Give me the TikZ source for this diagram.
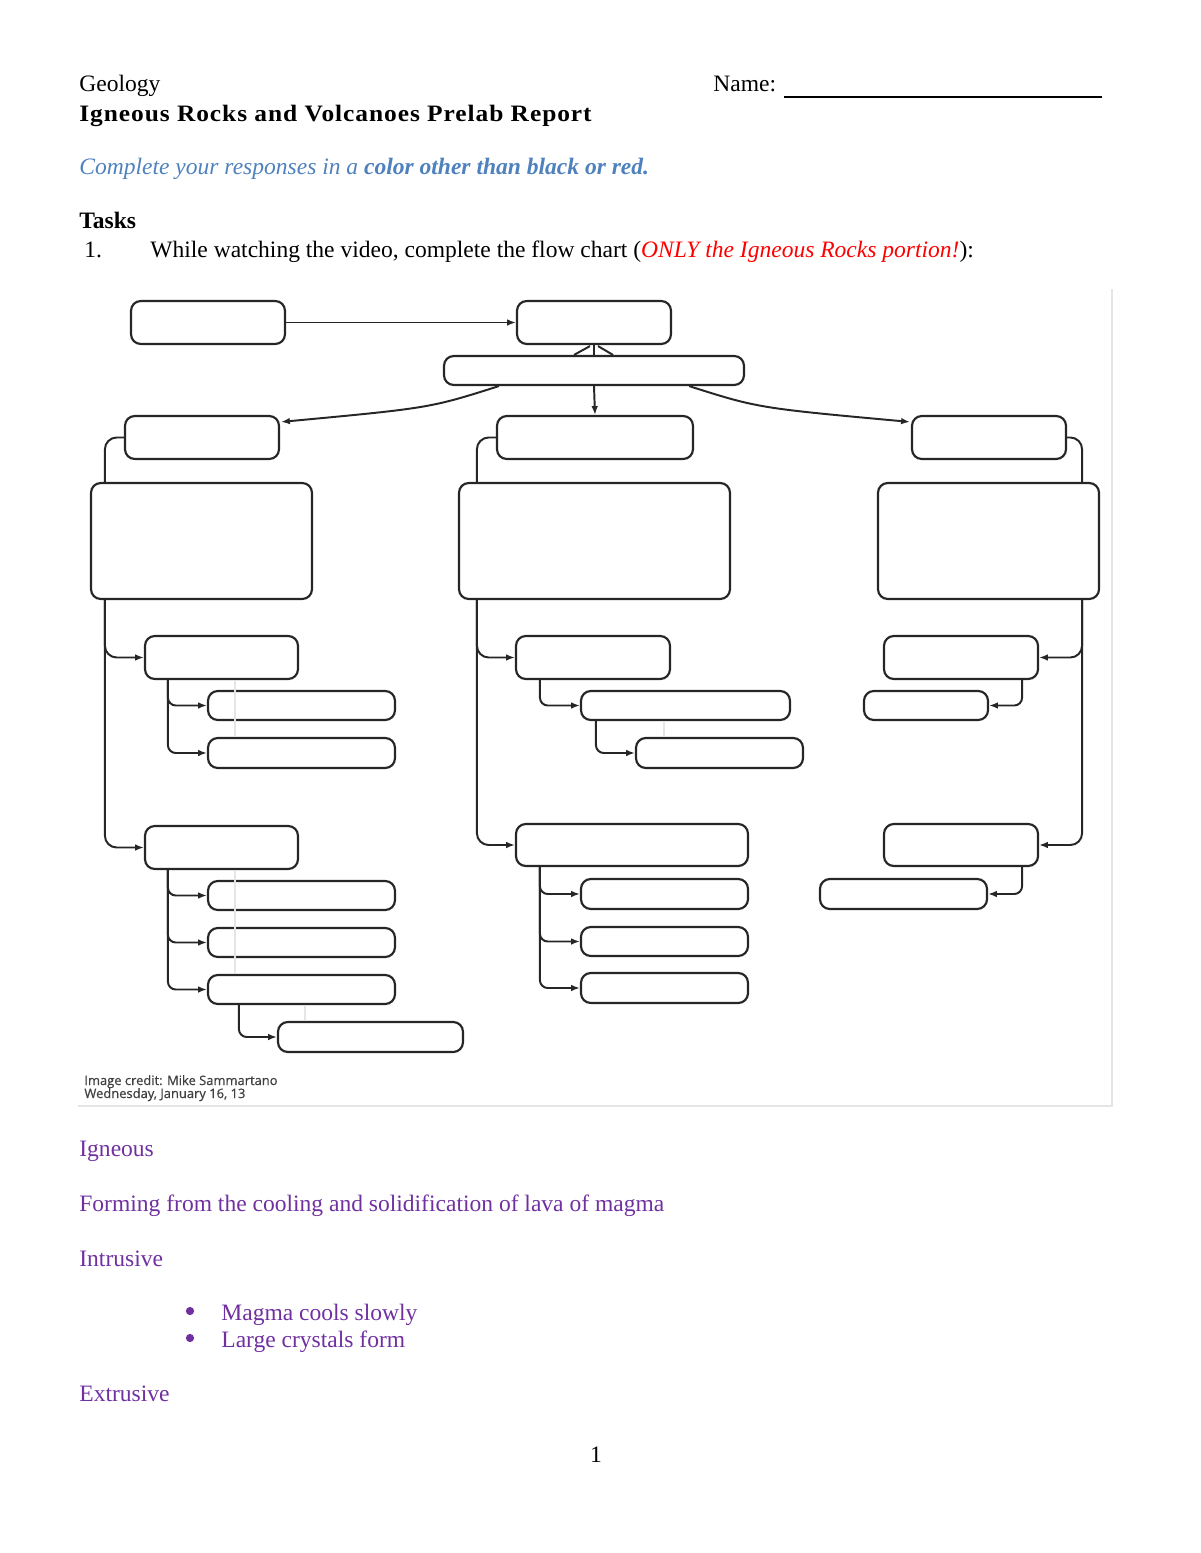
\documentclass[tikz,border=0pt]{standalone}
\usepackage{fontspec}
\setmainfont{Liberation Serif}
\newfontfamily\credfont{Open Sans}[FakeBold=0.6]
\newfontfamily\titlefont{Liberation Serif}[FakeStretch=1.08,LetterSpace=4]
\usetikzlibrary{arrows.meta,calc}
\definecolor{ublue}{RGB}{79,129,189}
\definecolor{upurple}{RGB}{112,48,160}
\definecolor{ured}{RGB}{255,0,0}
\newcommand\mybox[5]{%
  \pgfmathsetmacro\myBW{(#4-#2)*0.51}%
  \pgfmathsetmacro\myBH{(#5-#3)*0.51}%
  \node[box,minimum width=\myBW pt,minimum height=\myBH pt] (#1) at ({(#2+#4)/2},{(#3+#5)/2}) {};}
\begin{document}
\begin{tikzpicture}[x=0.51pt,y=-0.51pt,
  box/.style={draw=black!85,line width=1.1pt,rounded corners=5pt,inner sep=0pt,fill=white},
  conn/.style={draw=black!85,line width=1pt,rounded corners=4pt},
  arr/.style={conn,-{Latex[length=4.5pt,width=3.4pt]}},
  faint/.style={draw=black!10,line width=0.6pt},
  txt/.style={anchor=base west,inner sep=0pt,font=\fontsize{12}{14}\selectfont},
  ptxt/.style={txt,text=upurple},
  cred/.style={anchor=base west,inner sep=0pt,font=\credfont\fontsize{6.6}{7}\selectfont,text=black!75}]
\useasboundingbox (0,0) rectangle (1200,1553);

% ---------- header ----------
\node[txt] (geo) at (79,92) {Geology};
\node[txt] (name) at (713,92) {Name:};
\coordinate (nl1) at (784,97);
\coordinate (nl2) at (1102,97);
\draw[line width=0.6pt] (nl1) -- (nl2);
\node[txt,font=\titlefont\fontsize{12}{14}\selectfont\bfseries] (title) at (79,122) {Igneous Rocks and Volcanoes Prelab Report};
\node[txt,text=ublue] (instr) at (79,175) {\itshape Complete your responses in a \textbf{color other than black or red.}};
\node[txt,font=\fontsize{12}{14}\selectfont\bfseries] (tasks) at (79,229) {Tasks};
\node[txt] (num) at (84,257) {1.};
\node[txt] (task1) at (150,257) {While watching the video, complete the flow chart (\textcolor{ured}{\itshape ONLY the Igneous Rocks portion!}):};

% ---------- frame ----------
\coordinate (f1) at (1112,289);
\coordinate (f2) at (1112,1106);
\coordinate (f3) at (78,1106);
\draw[faint] (f1) -- (f2) -- (f3);

% ---------- boxes ----------
\mybox{A}{131}{301}{285}{344}
\mybox{B}{517}{301}{671}{344}
\mybox{C}{444}{356}{744}{385}
\mybox{L1}{125}{416}{279}{459}
\mybox{M1}{497}{416}{693}{459}
\mybox{R1}{912}{416}{1066}{459}
\mybox{L2}{91}{483}{312}{599}
\mybox{M2}{459}{483}{730}{599}
\mybox{R2}{878}{483}{1099}{599}
\mybox{L3}{145}{636}{298}{679}
\mybox{L3a}{208}{691}{395}{720}
\mybox{L3b}{208}{738}{395}{768}
\mybox{M3}{516}{636}{670}{679}
\mybox{M3a}{581}{691}{790}{720}
\mybox{M3b}{636}{738}{803}{768}
\mybox{R3}{884}{636}{1038}{679}
\mybox{R3a}{864}{691}{988}{720}
\mybox{L4}{145}{826}{298}{869}
\mybox{L4a}{208}{881}{395}{910}
\mybox{L4b}{208}{928}{395}{957}
\mybox{L4c}{208}{975}{395}{1004}
\mybox{L4d}{278}{1022}{463}{1052}
\mybox{M4}{516}{824}{748}{866}
\mybox{M4a}{581}{879}{748}{909}
\mybox{M4b}{581}{927}{748}{956}
\mybox{M4c}{581}{973}{748}{1003}
\mybox{R4}{884}{824}{1038}{866}
\mybox{R4a}{820}{879}{987}{909}

% faint guide lines
\draw[faint] ($(L3.south west)+(91,0)$) -- ($(L3b.north west)+(28,0)$);
\draw[faint] ($(L4.south west)+(91,0)$) -- ($(L4c.north west)+(28,0)$);
\draw[faint] ($(L4c.south west)+(98,0)$) -- ($(L4d.north west)+(28,0)$);
\draw[faint] ($(M3a.south west)+(84,0)$) -- ($(M3b.north west)+(29,0)$);

% ---------- connectors ----------
\draw[arr] (A.east) -- (B.west);
\draw[conn] (C.north) -- (B.south);
\draw[conn] ($(C.north)+(-20,0)$) -- ($(B.south)+(-4,1)$);
\draw[conn] ($(C.north)+(19,0)$) -- ($(B.south)+(4,1)$);
\draw[arr] (C.south) -- (M1.north);
\draw[arr,rounded corners=0pt] ($(C.south west)+(56,0)$) .. controls (430,408) .. ($(L1.north east)+(1,7)$);
\draw[arr,rounded corners=0pt] ($(C.south east)+(-56,0)$) .. controls (758,408) .. ($(R1.north west)+(-1,7)$);

% left column
\draw[conn,rounded corners=6pt] (L1.west) -| ($(L2.north west)+(15,0)$);
\draw[arr,rounded corners=6pt] ($(L2.south west)+(15,0)$) |- (L3.west);
\draw[arr,rounded corners=6pt] ($(L2.south west)+(15,0)$) |- (L4.west);
\draw[arr] ($(L3.south west)+(24,0)$) |- (L3a.west);
\draw[arr] ($(L3.south west)+(24,0)$) |- (L3b.west);
\draw[arr] ($(L4.south west)+(24,0)$) |- (L4a.west);
\draw[arr] ($(L4.south west)+(24,0)$) |- (L4b.west);
\draw[arr] ($(L4.south west)+(24,0)$) |- (L4c.west);
\draw[arr] ($(L4c.south west)+(32,0)$) |- (L4d.west);

% middle column
\draw[conn,rounded corners=6pt] (M1.west) -| ($(M2.north west)+(19,0)$);
\draw[arr,rounded corners=6pt] ($(M2.south west)+(19,0)$) |- (M3.west);
\draw[arr,rounded corners=6pt] ($(M2.south west)+(19,0)$) |- (M4.west);
\draw[arr] ($(M3.south west)+(25,0)$) |- (M3a.west);
\draw[arr] ($(M3a.south west)+(16,0)$) |- (M3b.west);
\draw[arr] ($(M4.south west)+(25,0)$) |- (M4a.west);
\draw[arr] ($(M4.south west)+(25,0)$) |- (M4b.west);
\draw[arr] ($(M4.south west)+(25,0)$) |- (M4c.west);

% right column
\draw[conn,rounded corners=6pt] (R1.east) -| ($(R2.north east)+(-18,0)$);
\draw[arr,rounded corners=6pt] ($(R2.south east)+(-18,0)$) |- (R3.east);
\draw[arr,rounded corners=6pt] ($(R2.south east)+(-18,0)$) |- (R4.east);
\draw[arr] ($(R3.south east)+(-17,0)$) |- (R3a.east);
\draw[arr] ($(R4.south east)+(-17,0)$) |- (R4a.east);

% credit
\node[cred] (cr1) at (84,1085) {Image credit: Mike Sammartano};
\node[cred] (cr2) at (84,1098) {Wednesday, January 16, 13};

% ---------- answers ----------
\node[ptxt] (p1) at (79,1156) {Igneous};
\node[ptxt] (p2) at (79,1211) {Forming from the cooling and solidification of lava of magma};
\node[ptxt] (p3) at (79,1266) {Intrusive};
\node[circle,fill=upurple,inner sep=0pt,minimum size=4.2pt] (b1) at (190,1311) {};
\node[ptxt] (p4) at (221,1320) {Magma cools slowly};
\node[circle,fill=upurple,inner sep=0pt,minimum size=4.2pt] (b2) at (190,1338) {};
\node[ptxt] (p5) at (221,1347) {Large crystals form};
\node[ptxt] (p6) at (79,1401) {Extrusive};
\node[anchor=base,inner sep=0pt,font=\fontsize{12}{14}\selectfont] (pg) at (596,1462) {1};
\end{tikzpicture}
\end{document}
